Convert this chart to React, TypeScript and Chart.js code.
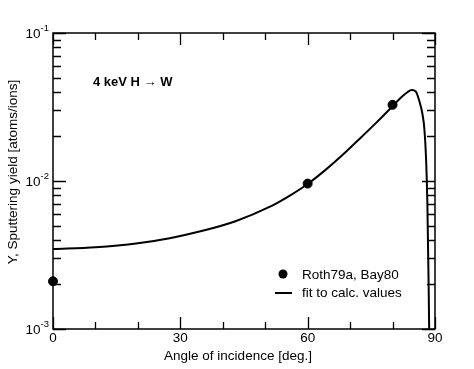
import React, { useEffect, useRef } from 'react';
import { Chart, registerables } from 'chart.js';

Chart.register(...registerables);

// Fit curve (angle in degrees, yield in atoms/ion)
const fitAngles = [0, 10, 20, 27.5, 35, 43, 51, 56, 60, 64, 68, 72, 76, 80, 82, 83.5, 84.5, 85.5, 86.3, 87, 87.5, 87.9, 88.2, 88.5, 88.7];
const fitYields = [3.47e-3, 3.57e-3, 3.8e-3, 4.11e-3, 4.59e-3, 5.35e-3, 6.68e-3, 8.04e-3, 9.55e-3, 1.175e-2, 1.48e-2, 1.9e-2, 2.45e-2, 3.2e-2, 3.67e-2, 3.98e-2, 4.12e-2, 4.01e-2, 3.47e-2, 2.88e-2, 2.24e-2, 1.41e-2, 7.1e-3, 2.0e-3, 6.3e-4];

// Experimental points (Roth79a, Bay80)
const expAngles = [0, 60, 80];
const expYields = [2.1e-3, 9.6e-3, 3.27e-2];

const xMajorTicks = [0, 30, 60, 90];
const xMinorTicks = [10, 20, 40, 50, 70, 80];
const yDecades = [-3, -2, -1];
const yMinorMantissas = [2, 3, 4, 5, 6, 7, 8, 9];

const titleText = '4 keV H \u2192 W';
const xTitle = 'Angle of incidence [deg.]';
const yTitle = 'Y, Sputtering yield [atoms/ions]';
const legendPoints = 'Roth79a, Bay80';
const legendLine = 'fit to calc. values';

const FONT = '"Liberation Sans", Arial, Helvetica, sans-serif';

const decorPlugin = {
  id: 'decor',
  afterDraw(chart: any) {
    const ctx = chart.ctx as CanvasRenderingContext2D;
    const ca = chart.chartArea;
    const xs = chart.scales.x;
    const ys = chart.scales.y;
    ctx.save();
    ctx.strokeStyle = '#000';
    ctx.fillStyle = '#000';

    // frame
    ctx.lineWidth = 1.5;
    ctx.strokeRect(ca.left, ca.top, ca.right - ca.left, ca.bottom - ca.top);

    // x ticks (inward, bottom and top)
    ctx.lineWidth = 1.3;
    const drawX = (v: number, len: number) => {
      const px = Math.round(xs.getPixelForValue(v)) + 0.5;
      ctx.beginPath();
      ctx.moveTo(px, ca.bottom);
      ctx.lineTo(px, ca.bottom - len);
      ctx.moveTo(px, ca.top);
      ctx.lineTo(px, ca.top + len);
      ctx.stroke();
    };
    xMajorTicks.forEach((v) => drawX(v, 12));
    xMinorTicks.forEach((v) => drawX(v, 7));

    // y ticks (inward, left and right)
    const drawY = (v: number, len: number) => {
      const py = Math.round(ys.getPixelForValue(v)) + 0.5;
      ctx.beginPath();
      ctx.moveTo(ca.left, py);
      ctx.lineTo(ca.left + len, py);
      ctx.moveTo(ca.right, py);
      ctx.lineTo(ca.right - len, py);
      ctx.stroke();
    };
    yDecades.forEach((d, i) => {
      drawY(Math.pow(10, d), 13);
      if (i < yDecades.length - 1) {
        yMinorMantissas.forEach((m) => drawY(m * Math.pow(10, d), 8));
      }
    });

    // x tick labels
    ctx.font = `13.5px ${FONT}`;
    ctx.textAlign = 'center';
    ctx.textBaseline = 'top';
    xMajorTicks.forEach((v) => {
      ctx.fillText(String(v), xs.getPixelForValue(v), ca.bottom + 3);
    });

    // y tick labels 10^d
    yDecades.forEach((d) => {
      const py = ys.getPixelForValue(Math.pow(10, d));
      ctx.font = `9.5px ${FONT}`;
      const sup = `-${Math.abs(d)}`;
      const supW = ctx.measureText(sup).width;
      const right = ca.left - 4;
      ctx.textAlign = 'left';
      ctx.textBaseline = 'middle';
      ctx.fillText(sup, right - supW, py - 5);
      ctx.font = `13.5px ${FONT}`;
      ctx.textAlign = 'right';
      ctx.fillText('10', right - supW, py + 1);
    });

    // axis titles
    ctx.font = `13.5px ${FONT}`;
    ctx.textAlign = 'center';
    ctx.textBaseline = 'middle';
    ctx.fillText(xTitle, (ca.left + ca.right) / 2 - 6, ca.bottom + 27);
    ctx.save();
    ctx.translate(13, (ca.top + ca.bottom) / 2 - 9);
    ctx.rotate(-Math.PI / 2);
    ctx.fillText(yTitle, 0, 0);
    ctx.restore();

    // annotation
    ctx.font = `bold 13px ${FONT}`;
    ctx.textAlign = 'left';
    ctx.fillText(titleText, 93, 82);

    // legend
    ctx.font = `13.5px ${FONT}`;
    ctx.beginPath();
    ctx.arc(283, 274, 4.5, 0, Math.PI * 2);
    ctx.fill();
    ctx.fillText(legendPoints, 302, 275);
    ctx.lineWidth = 2;
    ctx.beginPath();
    ctx.moveTo(275, 293);
    ctx.lineTo(292, 293);
    ctx.stroke();
    ctx.fillText(legendLine, 302, 293);

    ctx.restore();
  },
};

export default function App() {
  const ref = useRef<HTMLCanvasElement | null>(null);

  useEffect(() => {
    if (!ref.current) return;
    const chart = new Chart(ref.current, {
      type: 'line',
      data: {
        datasets: [
          {
            label: legendLine,
            data: fitAngles.map((a, i) => ({ x: a, y: fitYields[i] })),
            borderColor: '#000',
            borderWidth: 2,
            pointRadius: 0,
            fill: false,
            cubicInterpolationMode: 'monotone',
          },
          {
            label: legendPoints,
            data: expAngles.map((a, i) => ({ x: a, y: expYields[i] })),
            showLine: false,
            pointRadius: 4.5,
            pointBackgroundColor: '#000',
            pointBorderColor: '#000',
            backgroundColor: '#000',
            borderColor: '#000',
            clip: 6,
          } as any,
        ],
      },
      options: {
        animation: false,
        responsive: false,
        devicePixelRatio: 1,
        layout: { padding: { left: 53, right: 39, top: 33, bottom: 40 } },
        plugins: {
          legend: { display: false },
          tooltip: { enabled: false },
        },
        scales: {
          x: { type: 'linear', min: 0, max: 90, display: false },
          y: { type: 'logarithmic', min: 1e-3, max: 1e-1, display: false },
        },
      },
      plugins: [decorPlugin],
    });
    return () => chart.destroy();
  }, []);

  return (
    <div style={{ position: 'absolute', left: 0, top: 0, width: 474, height: 369, background: '#fff' }}>
      <canvas ref={ref} width={474} height={369} />
    </div>
  );
}
